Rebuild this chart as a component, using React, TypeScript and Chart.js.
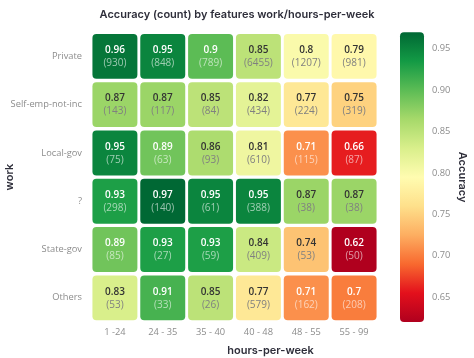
import React, { useEffect, useRef } from 'react';
import { Chart, registerables } from 'chart.js';

Chart.register(...registerables);

const hours = ['1 -24', '24 - 35', '35 - 40', '40 - 48', '48 - 55', '55 - 99'];
const works = ['Private', 'Self-emp-not-inc', 'Local-gov', '?', 'State-gov', 'Others'];

const accPrivate = [0.96, 0.95, 0.9, 0.85, 0.8, 0.79];
const cntPrivate = [930, 848, 789, 6455, 1207, 981];
const accSelfEmp = [0.87, 0.87, 0.85, 0.82, 0.77, 0.75];
const cntSelfEmp = [143, 117, 84, 434, 224, 319];
const accLocalGov = [0.95, 0.89, 0.86, 0.81, 0.71, 0.66];
const cntLocalGov = [75, 63, 93, 610, 115, 87];
const accUnknown = [0.93, 0.97, 0.95, 0.95, 0.87, 0.87];
const cntUnknown = [298, 140, 61, 388, 38, 38];
const accStateGov = [0.89, 0.93, 0.93, 0.84, 0.74, 0.62];
const cntStateGov = [85, 27, 59, 409, 53, 50];
const accOthers = [0.83, 0.91, 0.85, 0.77, 0.71, 0.7];
const cntOthers = [53, 33, 26, 579, 162, 208];

const colorbarTicks = [0.65, 0.7, 0.75, 0.8, 0.85, 0.9, 0.95];
const accMin = 0.62;
const accMax = 0.97;

const accRows = [accPrivate, accSelfEmp, accLocalGov, accUnknown, accStateGov, accOthers];
const cntRows = [cntPrivate, cntSelfEmp, cntLocalGov, cntUnknown, cntStateGov, cntOthers];

const STOPS: [number, string][] = [
  [0.0, '#b0001e'],
  [0.1, '#e3101c'],
  [0.2, '#f8692f'],
  [0.3, '#fdae61'],
  [0.4, '#fee08b'],
  [0.5, '#fffcb0'],
  [0.6, '#d9ef8b'],
  [0.7, '#a6d96a'],
  [0.8, '#5cbc55'],
  [0.9, '#139a45'],
  [1.0, '#006834'],
];

function hexToRgb(h: string) {
  const n = parseInt(h.slice(1), 16);
  return [(n >> 16) & 255, (n >> 8) & 255, n & 255];
}

function colorRgb(v: number) {
  const t = Math.max(0, Math.min(1, (v - accMin) / (accMax - accMin)));
  for (let i = 0; i < STOPS.length - 1; i++) {
    const [t0, c0] = STOPS[i];
    const [t1, c1] = STOPS[i + 1];
    if (t <= t1) {
      const f = (t - t0) / (t1 - t0);
      const a = hexToRgb(c0);
      const b = hexToRgb(c1);
      return a.map((x, k) => Math.round(x + (b[k] - x) * f));
    }
  }
  return hexToRgb(STOPS[STOPS.length - 1][1]);
}

function colorFor(v: number) {
  const [r, g, b] = colorRgb(v);
  return `rgb(${r},${g},${b})`;
}

function isDark(v: number) {
  const [r, g, b] = colorRgb(v);
  return (0.299 * r + 0.587 * g + 0.114 * b) / 255 < 0.68;
}

const cellTextPlugin = {
  id: 'cellText',
  afterDatasetsDraw(chart: any) {
    const ctx = chart.ctx;
    ctx.save();
    ctx.textAlign = 'center';
    ctx.textBaseline = 'middle';
    chart.data.datasets.forEach((ds: any, r: number) => {
      const meta = chart.getDatasetMeta(r);
      meta.data.forEach((el: any, c: number) => {
        const { x, y, base } = el.getProps(['x', 'y', 'base'], true);
        const yc = (y + base) / 2;
        const v = accRows[r][c];
        const dark = isDark(v);
        ctx.font = '600 10px "Open Sans"';
        ctx.fillStyle = dark ? '#ffffff' : '#333333';
        ctx.fillText(String(v), x, yc - 6);
        ctx.font = '10px "Open Sans"';
        ctx.fillStyle = dark ? 'rgba(255,255,255,0.6)' : '#808080';
        ctx.fillText(`(${cntRows[r][c]})`, x, yc + 7);
      });
    });
    ctx.restore();
  },
};

const colorbarPlugin = {
  id: 'colorbar',
  afterDraw(chart: any) {
    const s = chart.scales.cb;
    const ctx = chart.ctx;
    const x0 = s.left + 22;
    const w = 24;
    const top = s.top;
    const bottom = s.bottom;
    const g = ctx.createLinearGradient(0, top, 0, bottom);
    STOPS.forEach(([t, c]) => g.addColorStop(1 - t, c));
    ctx.save();
    ctx.fillStyle = g;
    ctx.beginPath();
    ctx.roundRect(x0, top, w, bottom - top, 4);
    ctx.fill();
    // x-axis title
    const ca = chart.chartArea;
    ctx.font = '600 11px Inter';
    ctx.fillStyle = '#2e2e3a';
    ctx.textAlign = 'center';
    ctx.textBaseline = 'middle';
    ctx.fillText('hours-per-week', (ca.left + ca.right) / 2 + 36, chart.height - 7);
    ctx.restore();
  },
};

export default function App() {
  const ref = useRef<HTMLCanvasElement>(null);
  useEffect(() => {
    if (!ref.current) return;
    const datasets = works.map((w, r) => ({
      label: w,
      data: accRows[r].map(() => [r + 0.035, r + 0.965]),
      backgroundColor: accRows[r].map(colorFor),
      borderRadius: 4,
      borderSkipped: false,
      borderWidth: 0,
      categoryPercentage: 0.94,
      barPercentage: 1,
    }));
    const tickColor = '#8c8c8c';
    const tickFont = { family: '"Open Sans"', size: 9.3 };
    const titleFont = { family: 'Inter', size: 11, weight: '600' as any };
    const noPad = (s: any) => {
      s.paddingTop = 0;
      s.paddingBottom = 0;
    };
    const chart = new Chart(ref.current, {
      type: 'bar',
      data: { labels: hours, datasets: datasets as any },
      plugins: [cellTextPlugin, colorbarPlugin],
      options: {
        animation: false,
        responsive: true,
        maintainAspectRatio: false,
        layout: { padding: 0 },
        plugins: {
          legend: { display: false },
          tooltip: { enabled: false },
          title: {
            display: true,
            text: 'Accuracy (count) by features work/hours-per-week',
            color: '#2e2e3a',
            font: titleFont,
            padding: { top: 8, bottom: 11 },
          },
        },
        scales: {
          x: {
            type: 'category',
            stacked: true,
            grid: { display: false, drawTicks: false },
            border: { display: false },
            ticks: { color: tickColor, font: tickFont, padding: 5 },
            afterFit: (s: any) => {
              s.height = 36;
              s.paddingLeft = 0;
              s.paddingRight = 0;
            },
          },
          y: {
            type: 'linear',
            position: 'left',
            min: 0,
            max: 6,
            reverse: true,
            stacked: false,
            grid: { display: false, drawTicks: false },
            border: { display: false },
            afterBuildTicks: (s: any) => {
              s.ticks = works.map((_, i) => ({ value: i + 0.5 }));
            },
            ticks: {
              autoSkip: false,
              color: tickColor,
              font: tickFont,
              padding: 9,
              callback: (v: any) => works[Math.floor(Number(v))],
            },
            title: {
              display: true,
              text: 'work',
              color: '#2e2e3a',
              font: titleFont,
              padding: { top: 3, bottom: 0 },
            },
            afterFit: (s: any) => {
              s.width = 91;
              noPad(s);
            },
          },
          cb: {
            type: 'linear',
            position: 'right',
            min: accMin,
            max: accMax,
            grid: { display: false, drawTicks: false },
            border: { display: false },
            afterBuildTicks: (s: any) => {
              s.ticks = colorbarTicks.map((v) => ({ value: v }));
            },
            ticks: {
              color: tickColor,
              font: tickFont,
              padding: 54,
              callback: (v: any) => Number(v).toFixed(2),
            },
            title: {
              display: true,
              text: 'Accuracy',
              color: '#2e2e3a',
              font: titleFont,
              padding: { top: 5, bottom: 0 },
            },
            afterFit: (s: any) => {
              s.width = 96;
              noPad(s);
            },
          },
        } as any,
      },
    });
    return () => chart.destroy();
  }, []);
  return (
    <div style={{ position: 'fixed', left: 0, top: 0, width: 474, height: 358, background: '#fff' }}>
      <canvas ref={ref} />
    </div>
  );
}
